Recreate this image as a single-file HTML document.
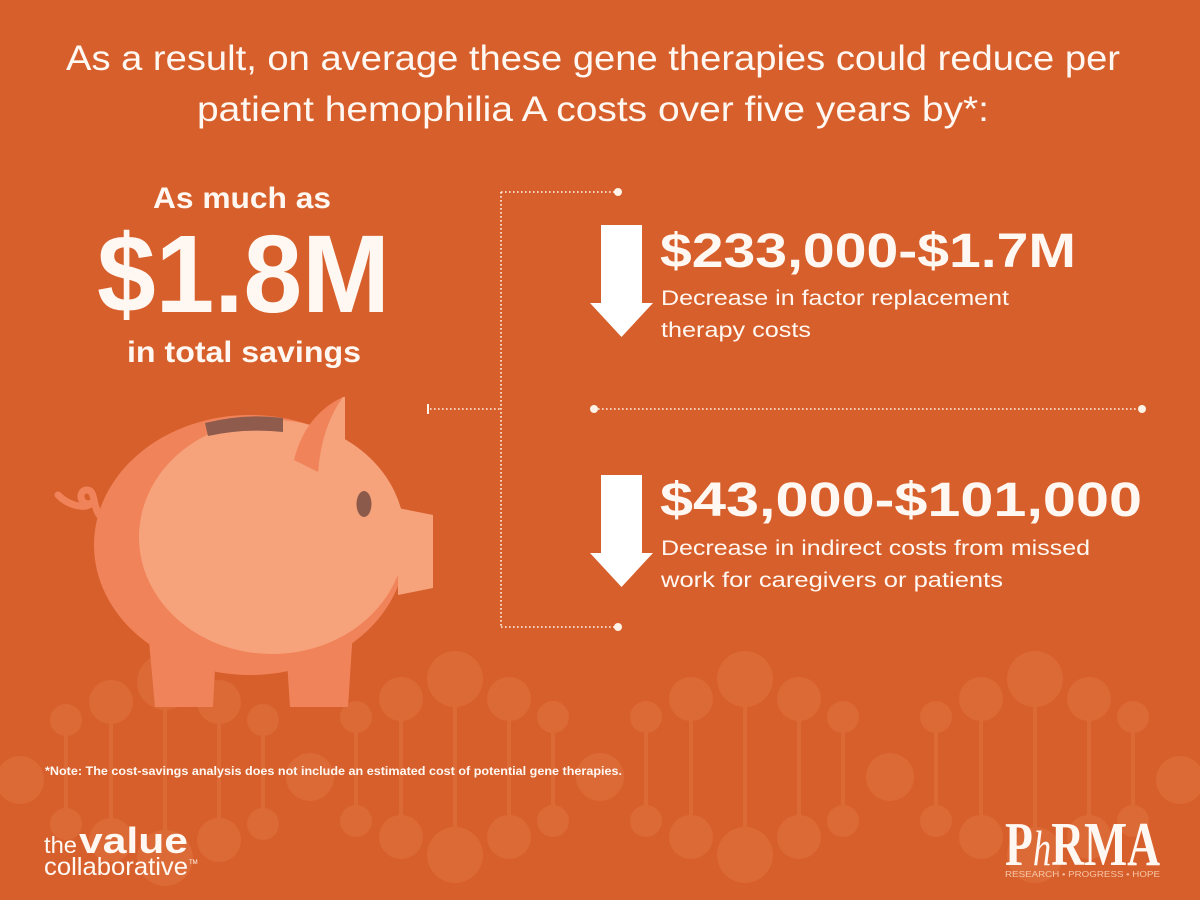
<!DOCTYPE html>
<html><head><meta charset="utf-8"><style>
html,body{margin:0;padding:0;background:#D75F2B;}
svg{display:block;}
text{font-family:"Liberation Sans",Arial,sans-serif;fill:#FFF8F2;}
</style></head><body>
<svg width="1200" height="900" viewBox="0 0 1200 900" xmlns="http://www.w3.org/2000/svg">
<rect width="1200" height="900" fill="#D75F2B"/>
<g fill="#DC6A36" stroke="#DC6A36" stroke-width="4">
<g id="p0">
<circle cx="20" cy="780" r="24" stroke="none"/>
<line x1="66" y1="720" x2="66" y2="824"/><circle cx="66" cy="720" r="16" stroke="none"/><circle cx="66" cy="824" r="16" stroke="none"/>
<line x1="111" y1="702" x2="111" y2="840"/><circle cx="111" cy="702" r="22" stroke="none"/><circle cx="111" cy="840" r="22" stroke="none"/>
<line x1="165" y1="682" x2="165" y2="858"/><circle cx="165" cy="682" r="28" stroke="none"/><circle cx="165" cy="858" r="28" stroke="none"/>
<line x1="219" y1="702" x2="219" y2="840"/><circle cx="219" cy="702" r="22" stroke="none"/><circle cx="219" cy="840" r="22" stroke="none"/>
<line x1="263" y1="720" x2="263" y2="824"/><circle cx="263" cy="720" r="16" stroke="none"/><circle cx="263" cy="824" r="16" stroke="none"/>
</g>
<use href="#p0" x="290" y="-3"/>
<use href="#p0" x="580" y="-3"/>
<use href="#p0" x="870" y="-3"/>
<circle cx="1180" cy="780" r="24" stroke="none"/>
</g>

<text x="66" y="70" font-size="35" textLength="1054" lengthAdjust="spacingAndGlyphs">As a result, on average these gene therapies could reduce per</text>
<text x="197" y="121" font-size="35" textLength="792" lengthAdjust="spacingAndGlyphs">patient hemophilia A costs over five years by*:</text>

<text x="153" y="208" font-size="30" font-weight="bold" textLength="178" lengthAdjust="spacingAndGlyphs">As much as</text>
<text x="97" y="312" font-size="110" font-weight="bold" textLength="293" lengthAdjust="spacingAndGlyphs">$1.8M</text>
<text x="127" y="362" font-size="30" font-weight="bold" textLength="234" lengthAdjust="spacingAndGlyphs">in total savings</text>

<g>
<path d="M100,516 C92,506 96,490 87,490 C77,490 80,508 92,503 C84,510 68,505 58,495" fill="none" stroke="#F1835A" stroke-width="7" stroke-linecap="round" stroke-linejoin="round"/>
<ellipse cx="250" cy="545" rx="156" ry="130" fill="#F1835A"/>
<polygon points="148,630 217,630 213,707 155,707" fill="#F1835A"/>
<polygon points="285,630 353,630 348,707 290,707" fill="#F1835A"/>
<path d="M318,472 Q322,425 343,397 L345,397 L345,455 Z" fill="#F6A37C"/>
<ellipse cx="272" cy="537" rx="133" ry="117" fill="#F6A37C"/>
<polygon points="398,508 433,515 433,588 398,595" fill="#F6A37C"/>
<path d="M318,472 Q322,425 343,397 L345,397 L345,455 Z" fill="#F6A37C"/>
<path d="M294,460 Q305,415 343,397 Q322,425 318,472 Z" fill="#F1835A"/>
<path d="M205,423 Q245,413 283,418 L283,432 Q245,428 208,436 Z" fill="#8F5B4C"/>
<ellipse cx="364" cy="504" rx="7.5" ry="13" fill="#8C5A4B"/>
</g>

<g stroke="#FFF3E8" stroke-width="1.6" stroke-dasharray="1.6 2.4" fill="none">
<line x1="501" y1="192" x2="615" y2="192"/>
<line x1="501" y1="192" x2="501" y2="627"/>
<line x1="501" y1="627" x2="615" y2="627"/>
<line x1="430" y1="409" x2="501" y2="409"/>
<line x1="598" y1="409" x2="1138" y2="409"/>
</g>
<rect x="427" y="404" width="2" height="10" fill="#FFF3E8"/>
<g fill="#FFF3E8">
<circle cx="618" cy="192" r="4"/>
<circle cx="618" cy="627" r="4"/>
<circle cx="594" cy="409" r="4"/>
<circle cx="1142" cy="409" r="4"/>
</g>

<polygon points="601,225 642,225 642,303 653,303 621.5,337 590,303 601,303" fill="#FFFFFF"/>
<polygon points="601,475 642,475 642,553 653,553 621.5,587 590,553 601,553" fill="#FFFFFF"/>

<text x="660" y="267" font-size="48" font-weight="bold" textLength="416" lengthAdjust="spacingAndGlyphs">$233,000-$1.7M</text>
<text x="661" y="305" font-size="21" textLength="348" lengthAdjust="spacingAndGlyphs">Decrease in factor replacement</text>
<text x="661" y="337" font-size="21" textLength="150" lengthAdjust="spacingAndGlyphs">therapy costs</text>
<text x="660" y="516" font-size="48" font-weight="bold" textLength="482" lengthAdjust="spacingAndGlyphs">$43,000-$101,000</text>
<text x="661" y="555" font-size="21" textLength="429" lengthAdjust="spacingAndGlyphs">Decrease in indirect costs from missed</text>
<text x="661" y="587" font-size="21" textLength="342" lengthAdjust="spacingAndGlyphs">work for caregivers or patients</text>

<text x="45" y="775" font-size="11.5" font-weight="bold" textLength="577" lengthAdjust="spacingAndGlyphs">*Note: The cost-savings analysis does not include an estimated cost of potential gene therapies.</text>

<text x="44" y="853" font-size="23" textLength="33" lengthAdjust="spacingAndGlyphs">the</text>
<text x="79" y="853" font-size="36" font-weight="bold" textLength="109" lengthAdjust="spacingAndGlyphs">value</text>
<text x="44" y="875" font-size="25" textLength="144" lengthAdjust="spacingAndGlyphs">collaborative</text>
<text x="189" y="864" font-size="6">TM</text>

<text x="1005" y="865" font-size="62" font-weight="bold" style="font-family:'Liberation Serif',serif" textLength="155" lengthAdjust="spacingAndGlyphs">P<tspan font-style="italic" font-weight="normal" font-size="50">h</tspan>RMA</text>
<text x="1005" y="877" font-size="8.5" style="fill:#F7C7A8" textLength="155" lengthAdjust="spacingAndGlyphs">RESEARCH • PROGRESS • HOPE</text>
</svg>
</body></html>
